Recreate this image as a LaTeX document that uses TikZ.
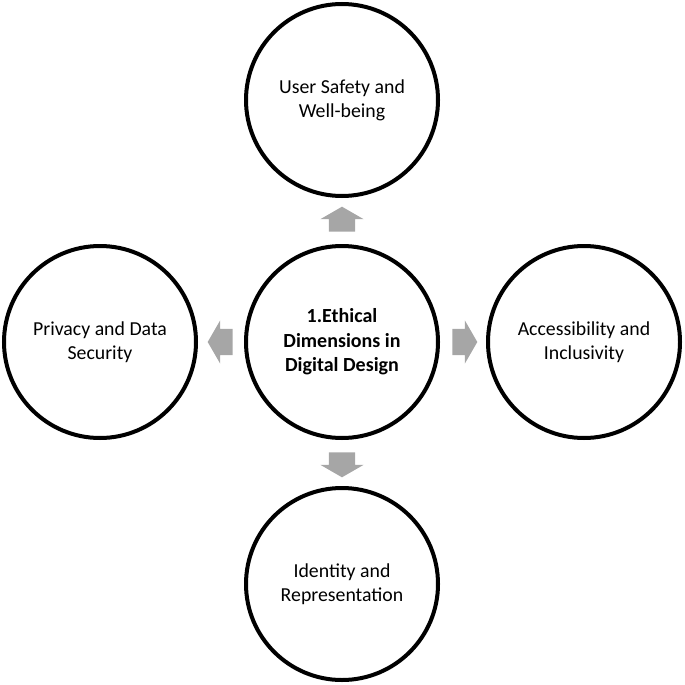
\documentclass[tikz,border=0pt]{standalone}
\usepackage{fontspec}
\setmainfont{Carlito}
\usetikzlibrary{shapes.arrows}
\definecolor{arrowgray}{HTML}{A6A6A6}
\begin{document}
\begin{tikzpicture}[x=1pt,y=-1pt,
  topic/.style={circle,draw=black,line width=4pt,minimum size=192pt,inner sep=0pt,
    align=center,font=\fontsize{19.8}{24}\selectfont},
  blockarrow/.style={single arrow,fill=arrowgray,draw=none,inner xsep=2pt,inner ysep=13pt,
    minimum height=25pt,single arrow head extend=8.5pt,
    single arrow tip angle=120}]
\useasboundingbox (0,0) rectangle (685,685);
% centre and the four dimensions
\node[topic,font=\fontsize{20}{24.5}\selectfont\bfseries] (hub) at (342,342) {1.Ethical\\Dimensions in\\Digital Design};
\node[topic] (safety) at (342,100) {User Safety and\\Well-being};
\node[topic] (privacy) at (100,342) {Privacy and Data\\Security};
\node[topic] (access) at (584,342) {Accessibility and\\Inclusivity};
\node[topic] (identity) at (342,584) {Identity and\\Representation};
% block arrows
\node[blockarrow,rotate=90] (uparrow) at (342,223) {};
\node[blockarrow,rotate=180] (leftarrow) at (224,342) {};
\node[blockarrow] (rightarrow) at (461,342) {};
\node[blockarrow,rotate=270] (downarrow) at (342,461) {};
\end{tikzpicture}
\end{document}
